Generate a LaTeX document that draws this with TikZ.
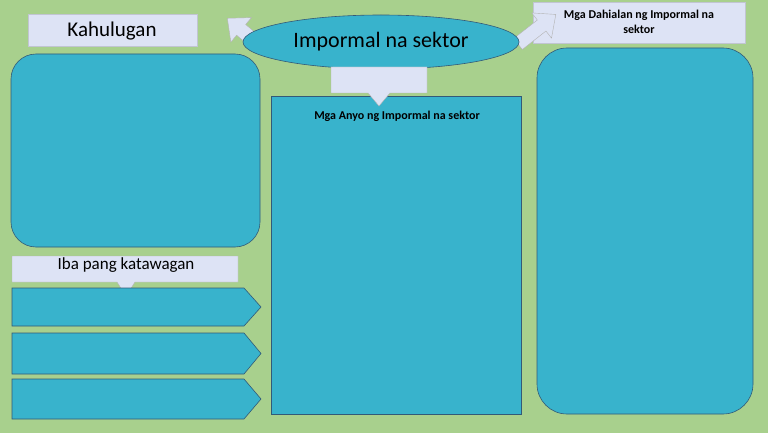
\documentclass[tikz,border=0pt]{standalone}
\usepackage{fontspec}
\setmainfont{Carlito}
\definecolor{bg}{RGB}{168,208,141}
\definecolor{teal}{RGB}{56,179,204}
\definecolor{lite}{RGB}{221,227,245}
\definecolor{edge}{RGB}{50,90,120}
\begin{document}
\begin{tikzpicture}[x=1pt,y=-1pt,
  tbox/.style={fill=teal,draw=edge,line width=0.6pt},
  lbox/.style={fill=lite,draw=lite!70!gray,line width=0.4pt},
  barrow/.style={fill=lite,draw=gray!60,line width=0.4pt}]
\fill[bg] (0,0) rectangle (768,433);
\useasboundingbox (0,0) rectangle (768,433);
% left big
\draw[tbox,rounded corners=25pt] (11,54) rectangle (260,247);
\draw[tbox,rounded corners=30pt] (537,48) rectangle (753,414);
\draw[tbox] (271,96) rectangle (521,414);
\node[font=\bfseries\fontsize{12}{14}\selectfont] (anyo) at (397,116) {Mga Anyo ng Impormal na sektor};
% top labels
\draw[lbox] (28,14) rectangle (197,46);
\node[font=\fontsize{21}{24}\selectfont] (kah) at (112,31) {Kahulugan};
\draw[lbox] (533,2) rectangle (745,43);
\node[font=\bfseries\fontsize{12}{15}\selectfont,align=center] (dah) at (639,22) {Mga Dahialan ng Impormal na\\sektor};
% arrows from ellipse
\begin{scope}[shift={(258,44)},rotate=140]
\draw[barrow] (0,-7) -- (22,-7) -- (22,-16) -- (40,0) -- (22,16) -- (22,7) -- (0,7) -- cycle;
\end{scope}
\begin{scope}[shift={(518,44)},rotate=38]
\draw[barrow] (0,-7) -- (30,-7) -- (30,-16) -- (48,0) -- (30,16) -- (30,7) -- (0,7) -- cycle;
\end{scope}
% ellipse
\draw[tbox] (381,42) ellipse [x radius=138,y radius=27];
\node[font=\fontsize{22}{26}\selectfont] (imp) at (381,42) {Impormal na sektor};
% down arrow
\draw[barrow] (331,67) -- (427,67) -- (427,93) -- (390,93) -- (379,106) -- (368,93) -- (331,93) -- cycle;
% iba pang
\draw[barrow] (12,256) -- (238,256) -- (238,282) -- (135,282) -- (126,296) -- (117,282) -- (12,282) -- cycle;
\node[font=\fontsize{17}{20}\selectfont] (iba) at (126,265) {Iba pang katawagan};
% pentagons
\foreach \a/\b in {288/326,333/374,379/419}{
  \draw[tbox] (12,\a) -- (244,\a) -- (261,{(\a+\b)/2}) -- (244,\b) -- (12,\b) -- cycle;
}
\end{tikzpicture}
\end{document}
